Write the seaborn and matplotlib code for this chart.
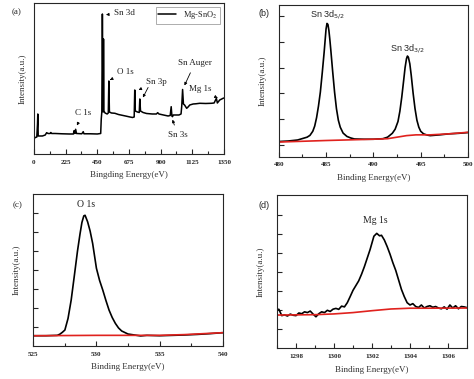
import numpy as np
import pandas as pd
import seaborn as sns
import matplotlib.pyplot as plt
from matplotlib.ticker import MultipleLocator

# XPS spectra of Mg-SnO2 (arbitrary intensity units)

# (a) survey spectrum
survey_e = [0, 10, 20, 25, 27, 30, 40, 60, 80, 90, 100, 115, 120, 125, 150, 200, 250, 280, 285, 290,
            296, 302, 340, 350, 355, 400, 450, 474, 478, 482, 486, 489, 492, 494, 497, 505, 520, 528,
            532, 536, 550, 575, 600, 650, 682, 700, 712, 716, 720, 735, 748, 752, 757, 775, 800, 840,
            870, 879, 888, 920, 953, 968, 975, 980, 984, 990, 1030, 1045, 1050, 1056, 1062, 1070,
            1085, 1095, 1107, 1131, 1150, 1178, 1220, 1261, 1280, 1296, 1303, 1320, 1344, 1350]
survey_i = [15.5, 16.5, 17, 30, 40, 18, 18, 18, 19, 21.3, 20.5, 20.5, 21.5, 20.5, 20.5, 20.2, 20, 20,
            23.3, 20.5, 24.7, 20.5, 20.2, 22.3, 20.2, 20.2, 20, 20.5, 35, 42, 140, 80, 42, 115, 43, 41,
            40, 41, 73, 42, 41, 40.7, 39.5, 38, 37, 36.5, 37, 64, 43, 42, 41.5, 55, 43, 41.5, 40.5, 40,
            40, 41.3, 40, 39, 38, 38.5, 47.3, 38, 37.3, 39, 39, 40, 48, 64.5, 50, 49,
            45.7, 47, 49, 50, 50.2, 50.7, 50.5, 50.7, 51, 55.7, 51, 54, 55.7, 56]

# (b) Sn 3d
sn_e = [480, 481, 482, 483, 483.3, 483.6, 483.8, 484.0, 484.2, 484.4, 484.6, 484.8, 484.9, 485.0,
        485.1, 485.2, 485.3, 485.4, 485.5, 485.7, 485.9, 486.1, 486.3, 486.5, 486.8, 487.2, 487.6,
        488, 489, 490, 491, 491.5, 492, 492.3, 492.6, 492.8, 493.0, 493.2, 493.35, 493.5, 493.6,
        493.7, 493.85, 494.0, 494.2, 494.4, 494.6, 494.8, 495.0, 495.3, 495.7, 496, 497, 498, 499, 500]
sn_i = [0.12, 0.14, 0.18, 0.29, 0.36, 0.52, 0.72, 1.05, 1.5, 2.05, 2.8, 3.6, 4.05, 4.5,
        4.72, 4.68, 4.45, 4.1, 3.7, 2.85, 2.05, 1.4, 0.95, 0.68, 0.45, 0.32, 0.26,
        0.22, 0.21, 0.21, 0.23, 0.29, 0.44, 0.6, 0.9, 1.3, 1.85, 2.5, 3.0, 3.35, 3.45,
        3.4, 3.15, 2.7, 2.0, 1.4, 0.95, 0.68, 0.52, 0.42, 0.37, 0.35, 0.38, 0.42, 0.44, 0.47]
sn_bg_e = [480, 485, 490, 491.5, 492.5, 493.5, 494.5, 496, 498, 500]
sn_bg_i = [0.10, 0.16, 0.21, 0.23, 0.29, 0.35, 0.38, 0.38, 0.42, 0.48]

# (c) O 1s
o_e = [525, 526, 526.9, 527.1, 527.3, 527.5, 527.75, 528.0, 528.25, 528.5, 528.7, 528.85, 529.0,
       529.1, 529.3, 529.5, 529.7, 530.0, 530.25, 530.5, 530.75, 531.0, 531.25, 531.5, 531.75,
       532.0, 532.5, 533, 533.5, 534, 535, 536, 537, 538, 539, 540]
o_i = [0.54, 0.54, 0.56, 0.62, 0.72, 0.84, 1.45, 2.42, 3.7, 5.0, 5.9, 6.5, 6.85,
       6.88, 6.54, 6.05, 5.40, 4.09, 3.45, 2.95, 2.4, 1.89, 1.5, 1.19, 0.95,
       0.79, 0.63, 0.58, 0.53, 0.56, 0.54, 0.56, 0.58, 0.61, 0.65, 0.70]
o_bg_e = [525, 530, 535, 537, 540]
o_bg_i = [0.54, 0.56, 0.56, 0.60, 0.70]

# (d) Mg 1s
mg_e = [1297, 1297.1, 1297.25, 1297.4, 1297.55, 1297.7, 1297.85, 1298, 1298.15, 1298.3, 1298.45,
        1298.6, 1298.75, 1298.9, 1299.05, 1299.2, 1299.35, 1299.5, 1299.65, 1299.8, 1299.95,
        1300.1, 1300.25, 1300.4, 1300.55, 1300.7, 1300.85, 1301.0, 1301.15, 1301.3, 1301.45,
        1301.6, 1301.75, 1301.9, 1302.0, 1302.1, 1302.25, 1302.4, 1302.5, 1302.65, 1302.8,
        1302.95, 1303.1, 1303.25, 1303.4, 1303.55, 1303.7, 1303.85, 1304.0, 1304.15, 1304.3,
        1304.45, 1304.6, 1304.75, 1304.9, 1305.05, 1305.2, 1305.35, 1305.5, 1305.65, 1305.8,
        1305.95, 1306.1, 1306.25, 1306.4, 1306.55, 1306.7, 1306.85, 1307]
mg_i = [2.05, 2.05, 1.72, 1.76, 1.70, 1.80, 1.74, 1.72, 1.86, 1.82, 1.92, 1.88, 1.96, 1.80,
        1.66, 1.82, 1.92, 1.88, 2.00, 1.94, 2.06, 2.10, 2.05, 2.22, 2.18, 2.40, 2.72, 3.05,
        3.30, 3.55, 3.90, 4.30, 4.75, 5.20, 5.55, 5.90, 6.05, 5.92, 5.95, 5.70, 5.35, 4.95,
        4.50, 4.10, 3.60, 3.10, 2.72, 2.40, 2.28, 2.35, 2.20, 2.15, 2.28, 2.12, 2.20, 2.24,
        2.16, 2.20, 2.12, 2.08, 2.18, 2.06, 2.28, 2.12, 2.24, 2.08, 2.20, 2.18, 2.14]
mg_bg_e = [1297, 1299, 1300, 1301, 1302, 1303, 1304, 1305, 1307]
mg_bg_i = [1.75, 1.77, 1.81, 1.88, 1.98, 2.07, 2.11, 2.11, 2.12]

sns.set_style("ticks")
plt.rcParams['font.family'] = ['Liberation Serif', 'DejaVu Serif']
plt.rcParams['mathtext.fontset'] = 'stix'

RED = '#e0221e'

fig = plt.figure(figsize=(4.74, 3.79), dpi=100)
ax_a = fig.add_axes([0.0717, 0.5937, 0.4008, 0.3992])
ax_b = fig.add_axes([0.588, 0.5866, 0.3994, 0.4003])
ax_c = fig.add_axes([0.0703, 0.0871, 0.3994, 0.401])
ax_d = fig.add_axes([0.5844, 0.081, 0.4008, 0.4045])


def style(ax, xlim, ylim, major, minor, yticks):
    ax.set_xlim(*xlim)
    ax.set_ylim(*ylim)
    ax.xaxis.set_major_locator(MultipleLocator(major))
    ax.xaxis.set_minor_locator(MultipleLocator(minor))
    ax.set_yticks(yticks)
    ax.set_yticklabels([])
    ax.tick_params(which='both', direction='in', width=0.8, labelsize=5, pad=4,
                   top=False, right=False)
    ax.tick_params(which='major', length=3.5)
    ax.tick_params(which='minor', length=2.5)
    for lab in ax.get_xticklabels():
        lab.set_fontweight('bold')
    for sp in ax.spines.values():
        sp.set_linewidth(0.8)
        sp.set_visible(True)
    ax.set_xlabel('Binding Energy(eV)', fontsize=6.5, color='#333333', labelpad=5)
    ax.set_ylabel('Intensity(a.u.)', fontsize=6.5, color='#333333', labelpad=5)
    ax.grid(False)


# (a)
df_a = pd.DataFrame({'e': survey_e, 'i': survey_i})
sns.lineplot(data=df_a, x='e', y='i', ax=ax_a, color='black', lw=1.1, estimator=None,
             label='Mg-SnO$_2$')
style(ax_a, (0, 1350), (0, 151.3), 225, 112.5, [])
ax_a.set_xlabel('Bingding Energy(eV)', fontsize=6.5, color='#333333', labelpad=5)
leg = ax_a.legend(loc='upper right', fontsize=6, frameon=True, fancybox=False,
                  handlelength=2.2, borderpad=0.3, borderaxespad=0.5)
leg.get_frame().set_edgecolor('#888888')
leg.get_frame().set_linewidth(0.6)

arrow = dict(arrowstyle='-|>', color='black', lw=0.6, mutation_scale=4)
tk = dict(fontsize=6.5, ha='center', va='center', color='#222222')
ax_a.annotate('Sn 3d', xy=(492, 139), xytext=(640, 141), arrowprops=arrow, **tk)
ax_a.annotate('O 1s', xy=(540, 74), xytext=(647, 82), arrowprops=arrow, **tk)
ax_a.annotate('C 1s', xy=(296, 26), xytext=(350, 41), arrowprops=arrow, **tk)
ax_a.annotate('Sn 3p', xy=(725, 63), xytext=(872, 72), arrowprops=arrow, **tk)
ax_a.annotate('', xy=(765, 54), xytext=(820, 69), arrowprops=arrow)
ax_a.annotate('Sn 3s', xy=(978, 37), xytext=(1021, 19), arrowprops=arrow, **tk)
ax_a.annotate('Sn Auger', xy=(1061, 66), xytext=(1144, 91), arrowprops=arrow, **tk)
ax_a.annotate('Mg 1s', xy=(1305, 56), xytext=(1180, 65), arrowprops=arrow, **tk)

# (b)
df_b = pd.DataFrame({'e': sn_e, 'i': sn_i})
df_bb = pd.DataFrame({'e': sn_bg_e, 'i': sn_bg_i})
sns.lineplot(data=df_b, x='e', y='i', ax=ax_b, color='black', lw=1.2, estimator=None)
sns.lineplot(data=df_bb, x='e', y='i', ax=ax_b, color=RED, lw=1.2, estimator=None)
style(ax_b, (480, 500), (-0.47, 5.44), 5, 2.5, [0, 1, 2, 3, 4, 5])
ax_b.text(485.1, 5.05, 'Sn 3d$_{5/2}$', fontsize=6.5, ha='center', va='center',
          family='Liberation Sans', math_fontfamily='dejavusans')
ax_b.text(493.6, 3.75, 'Sn 3d$_{3/2}$', fontsize=6.5, ha='center', va='center',
          family='Liberation Sans', math_fontfamily='dejavusans')

# (c)
df_c = pd.DataFrame({'e': o_e, 'i': o_i})
df_cb = pd.DataFrame({'e': o_bg_e, 'i': o_bg_i})
sns.lineplot(data=df_c, x='e', y='i', ax=ax_c, color='black', lw=1.2, estimator=None)
sns.lineplot(data=df_cb, x='e', y='i', ax=ax_c, color=RED, lw=1.2, estimator=None)
style(ax_c, (525, 540), (0, 8), 5, 2.5, [1, 2, 3, 4, 5, 6, 7])
ax_c.text(529.2, 7.45, 'O 1s', fontsize=7, ha='center', va='center', color='#222222')

# (d)
df_d = pd.DataFrame({'e': mg_e, 'i': mg_i})
df_db = pd.DataFrame({'e': mg_bg_e, 'i': mg_bg_i})
sns.lineplot(data=df_d, x='e', y='i', ax=ax_d, color='black', lw=1.2, estimator=None)
sns.lineplot(data=df_db, x='e', y='i', ax=ax_d, color=RED, lw=1.2, estimator=None)
style(ax_d, (1297, 1307), (0, 8.07), 2, 1, [1, 2, 3, 4, 5, 6, 7])
ax_d.text(1302.2, 6.75, 'Mg 1s', fontsize=7, ha='center', va='center', color='#222222')

# panel letters
fig.text(17 / 474, 1 - 12 / 379, '(a)', fontsize=6.5, ha='center', va='center')
fig.text(264 / 474, 1 - 13 / 379, '(b)', fontsize=6.5, ha='center', va='center',
         family='Liberation Sans')
fig.text(18 / 474, 1 - 205 / 379, '(c)', fontsize=6.5, ha='center', va='center')
fig.text(264 / 474, 1 - 206 / 379, '(d)', fontsize=6.5, ha='center', va='center',
         family='Liberation Sans')

fig.savefig('out.png', dpi=100)
